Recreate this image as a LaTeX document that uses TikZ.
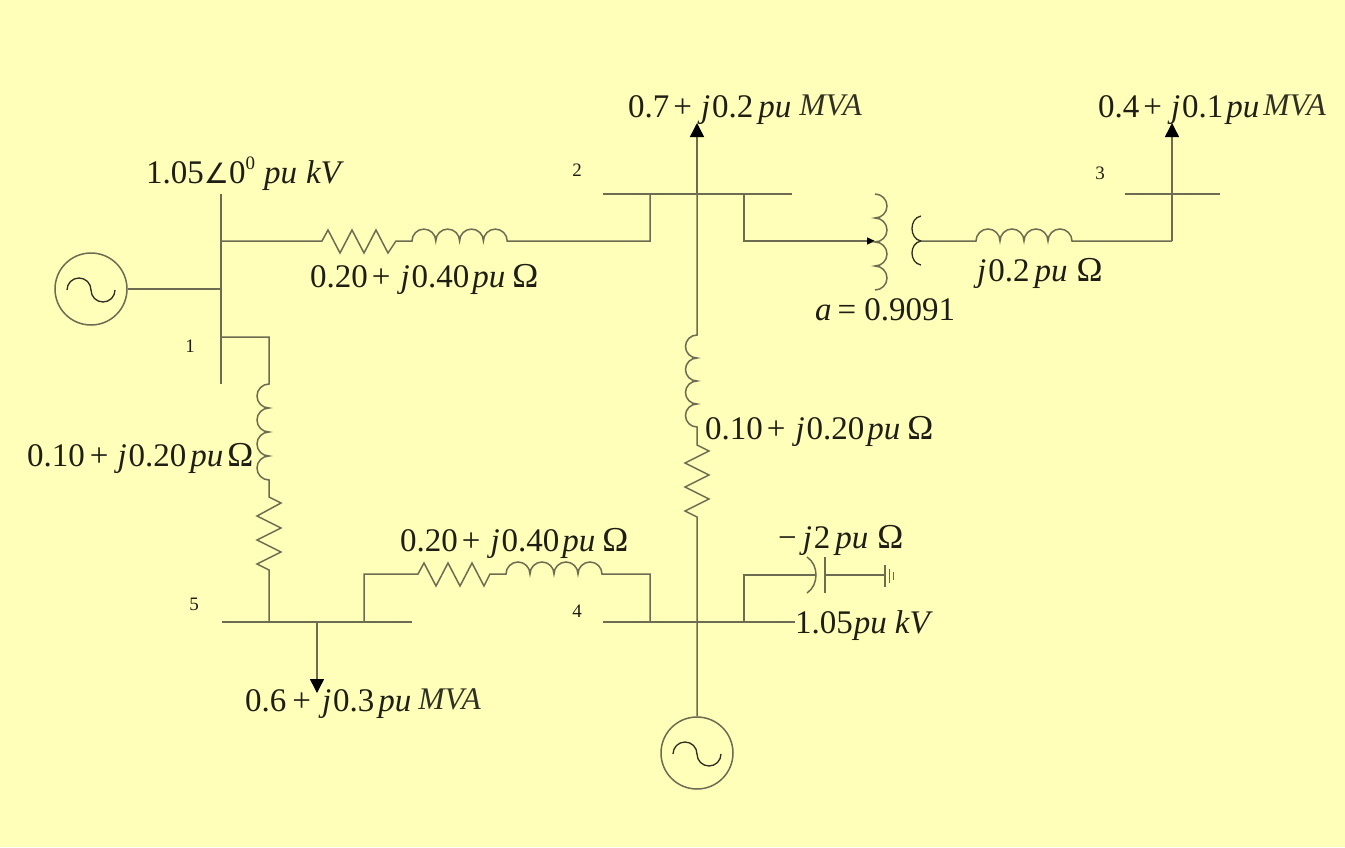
\documentclass[tikz,border=0pt]{standalone}
\usepackage{fontspec}
\setmainfont{Liberation Serif}
\newfontfamily\symfont{DejaVu Sans}
\usetikzlibrary{arrows.meta}
\definecolor{paper}{HTML}{FFFFB9}
\definecolor{wire}{HTML}{6C6C52}
\definecolor{ink}{HTML}{1E1E14}
\newcommand{\vj}{\textit{j}\kern2pt}
\newcommand{\pu}{\textit{pu}}
\newcommand{\pls}{\kern4pt+\kern9pt}
\newcommand{\Om}{{\fontsize{35}{36}\selectfont Ω}}
\newcommand{\mva}{\raisebox{2.5pt}{\fontsize{31.5}{33}\selectfont\textcolor{ink!75!wire}{\textit{MVA}}}}
\tikzset{
  wireline/.style={draw=wire,line width=1.5pt,line join=miter},
  coil/.style={draw=wire,line width=1.5pt},
  secondary/.style={draw=ink!80!wire,line width=1.3pt},
  gen/.style={circle,draw=wire,line width=1.5pt,minimum size=72pt,inner sep=0pt},
  lbl/.style={anchor=base west,inner sep=0pt,yshift=-1.5pt,text=ink,font=\fontsize{33}{35}\selectfont},
  num/.style={inner sep=0pt,text=ink,font=\fontsize{19}{20}\selectfont},
  load/.style={-{Triangle[length=14pt,width=14pt,color=black]},wireline},
  tap/.style={-{Triangle[length=8pt,width=7pt,color=black]},wireline}
}
\begin{document}
\begin{tikzpicture}[x=1pt,y=-1pt]
\path[fill=paper] (0,0) rectangle (1345,847);
\useasboundingbox (0,0) rectangle (1345,847);

% generators
\node[gen] (g1) at (91,289) {};
\node[gen] (g2) at (697,753) {};
\draw[secondary] (67,290) arc[start angle=180,end angle=0,radius=12pt] arc[start angle=180,end angle=360,radius=12pt];
\draw[secondary] (673,754) arc[start angle=180,end angle=0,radius=12pt] arc[start angle=180,end angle=360,radius=12pt];

% buses
\coordinate (b1t) at (221,194); \coordinate (b1b) at (221,384);
\coordinate (b2l) at (603,194); \coordinate (b2r) at (792,194);
\coordinate (b3l) at (1125,194); \coordinate (b3r) at (1220,194);
\coordinate (b4l) at (603,622); \coordinate (b4r) at (795,622);
\coordinate (b5l) at (222,622); \coordinate (b5r) at (412,622);
\draw[wireline] (b1t) -- (b1b);
\draw[wireline] (b2l) -- (b2r);
\draw[wireline] (b3l) -- (b3r);
\draw[wireline] (b4l) -- (b4r);
\draw[wireline] (b5l) -- (b5r);
\coordinate (j1g) at (221,289);
\draw[wireline] (g1) -- (j1g);

% line 1-2
\coordinate (j12) at (221,241);
\coordinate (j21) at (650,194);
\draw[wireline] (j12) -- (322,241) -- (328,230) -- (340,253) -- (352,230) -- (364,253) -- (376,230) -- (388,253) -- (396,241) -- (412,241)
  arc[start angle=180,end angle=0,radius=11.9pt] arc[start angle=180,end angle=0,radius=11.9pt]
  arc[start angle=180,end angle=0,radius=11.9pt] arc[start angle=180,end angle=0,radius=11.9pt]
  -- (650,241) -- (j21);

% line 1-5
\coordinate (j15) at (221,337);
\coordinate (j51) at (269,622);
\draw[wireline] (j15) -- (269,337) -- (269,384)
  arc[start angle=90,end angle=270,radius=12pt] arc[start angle=90,end angle=270,radius=12pt]
  arc[start angle=90,end angle=270,radius=12pt] arc[start angle=90,end angle=270,radius=12pt]
  -- (269,497) -- (281,503) -- (257,516) -- (281,528) -- (257,540) -- (281,552) -- (257,564) -- (269,570) -- (j51);

% line 5-4
\coordinate (j54) at (364,622);
\coordinate (j45) at (650,622);
\draw[wireline] (j54) -- (364,574) -- (418,574) -- (424,563) -- (436,586) -- (448,563) -- (460,586) -- (472,563) -- (484,586) -- (490,574) -- (506,574)
  arc[start angle=180,end angle=0,radius=12pt] arc[start angle=180,end angle=0,radius=12pt]
  arc[start angle=180,end angle=0,radius=12pt] arc[start angle=180,end angle=0,radius=12pt]
  -- (650,574) -- (j45);

% line 2-4 and the two vertical stems
\coordinate (a2) at (697,123);
\coordinate (j24) at (697,194);
\draw[load] (j24) -- (a2);
\draw[wireline] (j24) -- (697,335)
  arc[start angle=90,end angle=270,radius=11.5pt] arc[start angle=90,end angle=270,radius=11.5pt]
  arc[start angle=90,end angle=270,radius=11.5pt] arc[start angle=90,end angle=270,radius=11.5pt]
  -- (697,445) -- (709,451) -- (685,463) -- (709,475) -- (685,487) -- (709,499) -- (685,511) -- (697,517) -- (g2);

% transformer
\coordinate (j2t) at (744,194);
\coordinate (tp) at (875,241);
\coordinate (ts) at (921,241);
\draw[wireline] (j2t) -- (744,241) -- (860,241);
\draw[tap] (860,241) -- (tp);
\draw[coil] (875,194)
  arc[start angle=90,end angle=-90,radius=12pt] arc[start angle=90,end angle=-90,radius=12pt]
  arc[start angle=90,end angle=-90,radius=12pt] arc[start angle=90,end angle=-90,radius=12pt];
\draw[secondary] (921,216) .. controls (909,218) and (909,239) .. (ts) .. controls (909,243) and (909,263) .. (921,265);

% line to bus 3
\coordinate (j3) at (1172,241);
\coordinate (a3) at (1172,123);
\draw[wireline] (ts) -- (976,241)
  arc[start angle=180,end angle=0,radius=12pt] arc[start angle=180,end angle=0,radius=12pt]
  arc[start angle=180,end angle=0,radius=12pt] arc[start angle=180,end angle=0,radius=12pt]
  -- (j3);
\draw[load] (j3) -- (a3);

% load at bus 5
\coordinate (j5l) at (317,622);
\coordinate (a5) at (317,693);
\draw[load] (j5l) -- (a5);

% capacitor at bus 4
\coordinate (j4c) at (744,622);
\coordinate (gnd) at (885,575);
\draw[wireline] (j4c) -- (744,575) -- (816,575);
\draw[wireline] (807,557) .. controls (819,565) and (819,585) .. (807,593);
\draw[wireline] (825,557) -- (825,593);
\draw[wireline] (825,575) -- (gnd);
\draw[wireline,line width=1.2pt] (885,565) -- (885,587);
\draw[wireline,line width=1pt] (889,569) -- (889,583);
\draw[wireline,line width=.9pt] (893,572) -- (893,580);

% labels
\node[lbl] (l1) at (146,182) {1.05{\symfont\fontsize{28}{30}\selectfont ∠}0\raisebox{.42em}{\fontsize{19}{20}\selectfont 0}\kern9pt\pu\kern9pt\textit{kV}};
\node[lbl] (l2) at (628,116) {0.7\pls\vj0.2\kern5pt\pu\kern8pt\mva};
\node[lbl] (l3) at (1098,116) {0.4\pls\vj0.1\kern3pt\pu\kern4pt\mva};
\node[lbl] (l4) at (310,286) {0.20\pls\kern1pt\vj0.40\kern3pt\pu\kern7pt\Om};
\node[lbl] (l5) at (977,280) {\vj0.2\kern5pt\pu\kern9pt\Om};
\node[lbl] (l6) at (815,319) {\textit{a}\kern6pt=\kern8pt0.9091};
\node[lbl] (l7) at (27,465) {0.10\kern5pt+\kern9pt\vj0.20\kern4pt\pu\kern4pt\Om};
\node[lbl] (l8) at (705,438) {0.10\pls\kern1pt\vj0.20\kern3pt\pu\kern7pt\Om};
\node[lbl] (l9) at (400,550) {0.20\pls\kern1pt\vj0.40\kern3pt\pu\kern7pt\Om};
\node[lbl] (l10) at (778,547) {−\kern6pt\vj2\kern5pt\pu\kern9pt\Om};
\node[lbl] (l11) at (795,632) {1.05\kern1pt\pu\kern8pt\textit{kV}};
\node[lbl] (l12) at (245,710) {0.6\kern6pt+\kern11pt\vj0.3\kern4pt\pu\kern7pt\mva};
\node[num] (n1) at (190,346) {1};
\node[num] (n2) at (577,170) {2};
\node[num] (n3) at (1100,173) {3};
\node[num] (n4) at (577,611) {4};
\node[num] (n5) at (194,604) {5};
\end{tikzpicture}
\end{document}
